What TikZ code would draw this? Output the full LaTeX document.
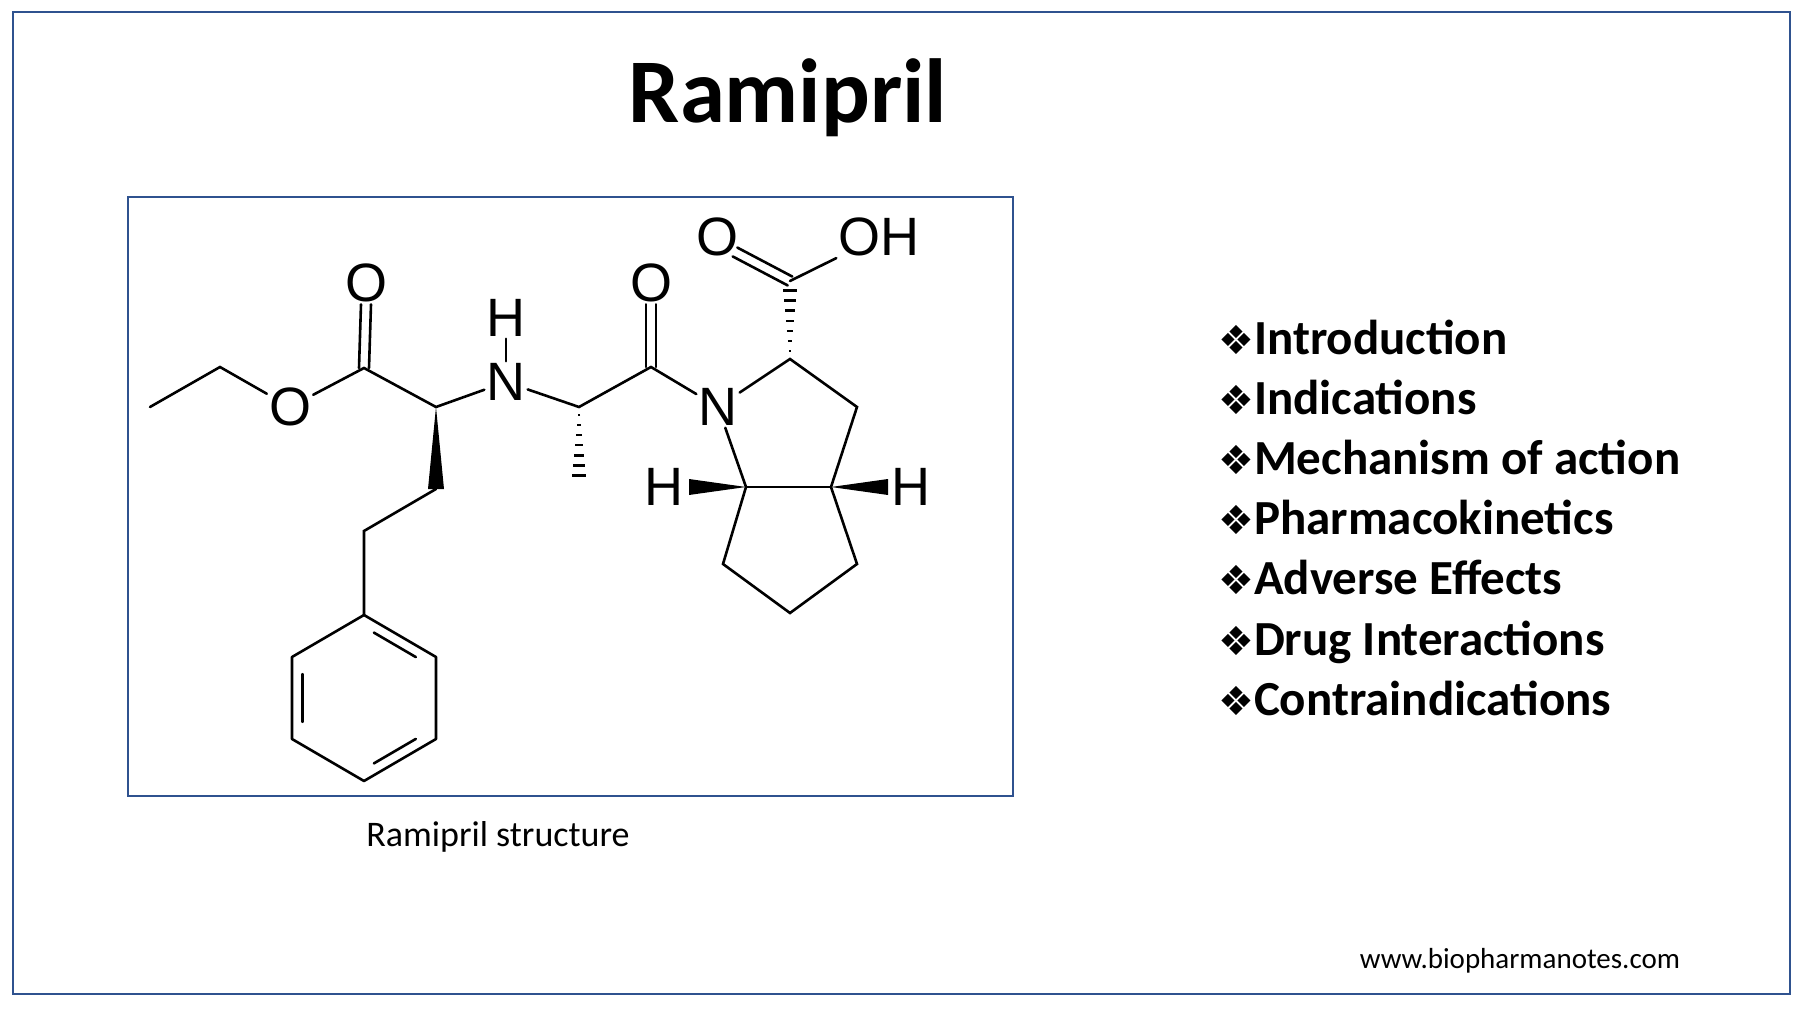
\documentclass[tikz,border=0pt]{standalone}
\usepackage{fontspec}
\setmainfont{Carlito}
\newfontfamily\atomfont{Liberation Sans}
\newfontfamily\symfont{DejaVu Sans}
\usetikzlibrary{calc,positioning}
\definecolor{framecol}{RGB}{47,82,143}

% hashed and solid stereo bonds
\newcommand{\hashbond}[2]{%
  \foreach \t in {0.1,0.23,...,0.95}{%
    \pgfmathsetmacro\hw{0.5+\t*7}
    \path ($(#1)!\t!(#2)$) coordinate (hm);
    \draw[line width=2.4pt] ($(hm)!\hw pt!90:(#2)$) -- ($(hm)!\hw pt!-90:(#2)$);
  }}
\newcommand{\wedgebond}[2]{%
  \fill (#1) -- ($(#2)!8pt!90:(#1)$) -- ($(#2)!8pt!-90:(#1)$) -- cycle;}
\newcommand{\innerbond}[2]{%
  \path ($(#1)!0.16!(#2)$) coordinate (ia) ($(#1)!0.84!(#2)$) coordinate (ib);
  \draw[bond] ($(ia)!11pt!(bz)$) -- ($(ib)!11pt!(bz)$);}

\begin{document}
\begin{tikzpicture}[x=1pt,y=-1pt,
    bond/.style={line width=2.6pt, line cap=round},
    atom/.style={font=\atomfont\fontsize{54}{54}\selectfont, inner sep=2pt},
    bullet/.style={anchor=base west, font=\bfseries\fontsize{49}{49}\selectfont, inner sep=0pt},
    frame/.style={draw=framecol, line width=1.8pt}
]
\useasboundingbox (0,0) rectangle (1802,1016);
\draw[frame] (13,12) rectangle (1790,994);
\draw[frame] (128,197) rectangle (1013,796);

% title and captions
\node[font=\bfseries\fontsize{91}{91}\selectfont] (title) at (788,98) {Ramipril};
\node[font=\fontsize{36}{36}\selectfont] (caption) at (498,837) {Ramipril structure};
\node[font=\fontsize{29}{29}\selectfont] (site) at (1520,961) {www.biopharmanotes.com};

% atoms with labels
\node[atom] (oest) at (290,407) {O};
\node[atom] (oco1) at (366,283) {O};
\node[atom] (nh) at (506,382) {N};
\node[atom] (hn) at (506,318) {H};
\node[atom] (oco2) at (651,283) {O};
\node[atom] (nr) at (718,407) {N};
\node[atom] (oacid) at (717,237) {O};
\node[atom] (oh) at (879,237) {OH};
\node[atom] (hl) at (664,487) {H};
\node[atom] (hr) at (911,487) {H};

% carbon positions
\coordinate (me) at (150,407);
\coordinate (ch2) at (220,367);
\coordinate (cest) at (364,368);
\coordinate (ca) at (436,407);
\coordinate (cb) at (436,489);
\coordinate (cg) at (364,531);
\coordinate (bz) at (364,698);
\coordinate (b1) at (364,615);
\coordinate (b2) at (436,657);
\coordinate (b3) at (436,739);
\coordinate (b4) at (364,781);
\coordinate (b5) at (292,739);
\coordinate (b6) at (292,657);
\coordinate (ca2) at (579,407);
\coordinate (mea) at (579,485);
\coordinate (camd) at (651,367);
\coordinate (c2) at (790,359);
\coordinate (cacid) at (790,281);
\coordinate (c3) at (857,407);
\coordinate (c3a) at (831,487);
\coordinate (c6a) at (746,487);
\coordinate (c6) at (723,564);
\coordinate (c5) at (790,613);
\coordinate (c4) at (857,564);
\coordinate (oacide) at (735,252);
\coordinate (hlw) at (689,487);
\coordinate (hrw) at (888,487);

% skeleton
\draw[bond] (me) -- (ch2) -- (oest) -- (cest) -- (ca) -- (nh) -- (ca2) -- (camd) -- (nr) -- (c2) -- (c3) -- (c3a) -- (c4) -- (c5) -- (c6) -- (c6a) -- (nr);
\draw[bond] (c6a) -- (c3a);
\draw[bond] (nh) -- (hn);
\draw[bond] (cb) -- (cg) -- (b1);
\draw[bond] (cacid) -- (oh);
\draw[bond] ([xshift=-5pt]cest) -- ([xshift=-5pt]oco1.south);
\draw[bond] ([xshift=5pt]cest) -- ([xshift=5pt]oco1.south);
\draw[bond] ([xshift=-5pt]camd) -- ([xshift=-5pt]oco2.south);
\draw[bond] ([xshift=5pt]camd) -- ([xshift=5pt]oco2.south);
\draw[bond] ($(cacid)!5pt!90:(oacide)$) -- ($(oacide)!5pt!-90:(cacid)$);
\draw[bond] ($(cacid)!5pt!-90:(oacide)$) -- ($(oacide)!5pt!90:(cacid)$);

% benzene ring
\draw[bond, line join=round] (b1) -- (b2) -- (b3) -- (b4) -- (b5) -- (b6) -- cycle;
\innerbond{b1}{b2}
\innerbond{b5}{b6}
\innerbond{b3}{b4}

% stereo bonds
\wedgebond{ca}{cb}
\wedgebond{c6a}{hlw}
\wedgebond{c3a}{hrw}
\hashbond{ca2}{mea}
\hashbond{c2}{cacid}

% topic list
\foreach \topic [count=\i from 0] in {Introduction, Indications, Mechanism of action, Pharmacokinetics, Adverse Effects, Drug Interactions, Contraindications}{
  \node[bullet] (topic\i) at (1218,{354+60.2*\i}) {{\symfont\fontsize{40}{40}\selectfont ❖}\topic};
}
\end{tikzpicture}
\end{document}
